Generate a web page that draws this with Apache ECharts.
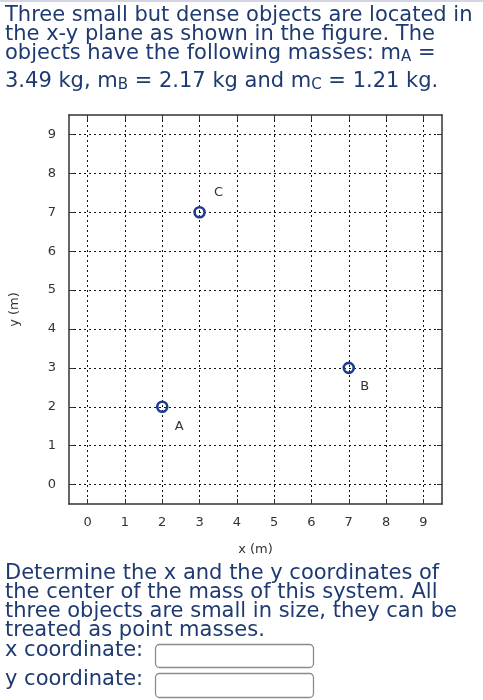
<!DOCTYPE html>
<html>
<head>
<meta charset="utf-8">
<script src="https://cdn.jsdelivr.net/npm/echarts@6/dist/echarts.min.js"></script>
<style>
html,body{margin:0;padding:0;background:#fff;}
#chart{width:483px;height:700px;}
</style>
</head>
<body>
<div id="chart"></div>
<script>
// ---- data ----
const pointNames = ['A', 'B', 'C'];
const pointX = [2, 7, 3];
const pointY = [2, 3, 7];
const xTickValues = [0, 1, 2, 3, 4, 5, 6, 7, 8, 9];
const yTickValues = [0, 1, 2, 3, 4, 5, 6, 7, 8, 9];
const xAxisName = 'x (m)';
const yAxisName = 'y (m)';
const topLines = [
  'Three small but dense objects are located in',
  'the x-y plane as shown in the figure. The',
  'objects have the following masses: m{s|A} =',
  '3.49 kg, m{s|B} = 2.17 kg and m{s|C} = 1.21 kg.'
];
const bottomLines = [
  'Determine the x and the y coordinates of',
  'the center of the mass of this system. All',
  'three objects are small in size, they can be',
  'treated as point masses.',
  'x coordinate:',
  'y coordinate:'
];

// ---- layout / style ----
const TEXT_COLOR = '#1e3a70';
const FONT = '"DejaVu Sans", Verdana, sans-serif';
const topBaselines = [23, 42, 61, 89];
const bottomBaselines = [581, 600, 619, 638, 658, 687];
const labelOffsets = {A: [17, 20], B: [16, 19], C: [19, -20]};

const chart = echarts.init(document.getElementById('chart'));

function textEl(str, baseline) {
  return {
    type: 'text',
    x: 5,
    y: baseline - 7,
    silent: true,
    style: {
      text: str,
      fill: TEXT_COLOR,
      fontFamily: FONT,
      fontSize: 21,
      verticalAlign: 'middle',
      lineHeight: 21,
      rich: {
        s: {fontSize: 15, fill: TEXT_COLOR, fontFamily: FONT, verticalAlign: 'bottom', lineHeight: 1}
      }
    }
  };
}

const graphics = [
  {type: 'rect', shape: {x: 0, y: 0, width: 483, height: 2}, style: {fill: '#d3d5e4'}, silent: true}
];
topLines.forEach((t, i) => graphics.push(textEl(t, topBaselines[i])));
bottomLines.forEach((t, i) => graphics.push(textEl(t, bottomBaselines[i])));
graphics.push({type: 'rect', shape: {x: 155.5, y: 644.5, width: 158, height: 23, r: 4}, style: {fill: '#fff', stroke: '#8c8c8c', lineWidth: 1.3}, silent: true});
graphics.push({type: 'rect', shape: {x: 155.5, y: 673.5, width: 158, height: 24, r: 4}, style: {fill: '#fff', stroke: '#8c8c8c', lineWidth: 1.3}, silent: true});

const axisLineStyle = {show: true, onZero: false, lineStyle: {color: '#333', width: 1.5}};
const tickStyle = {show: true, inside: true, length: 5, lineStyle: {color: '#333', width: 1}};
const gridLine = {show: true, lineStyle: {color: '#111', type: [2, 3], width: 1}};
const tickLabelStyle = {color: '#333', fontSize: 13, fontFamily: FONT};

const pointData = pointNames.map((n, i) => ({
  name: n,
  value: [pointX[i], pointY[i]],
  label: {offset: labelOffsets[n]}
}));

chart.setOption({
  animation: false,
  backgroundColor: '#fff',
  graphic: graphics,
  grid: {left: 64, right: 41, top: 115, bottom: 196, containLabel: false},
  xAxis: [
    {
      type: 'value', position: 'bottom', min: -0.5, max: 9.5,
      name: xAxisName, nameLocation: 'middle', nameGap: 39,
      nameTextStyle: {color: '#333', fontSize: 13, fontFamily: FONT},
      axisLine: axisLineStyle,
      axisTick: Object.assign({customValues: xTickValues}, tickStyle),
      axisLabel: Object.assign({customValues: xTickValues, margin: 12}, tickLabelStyle),
      splitLine: gridLine
    },
    {
      type: 'value', position: 'top', min: -0.5, max: 9.5,
      axisLine: axisLineStyle,
      axisTick: Object.assign({customValues: xTickValues}, tickStyle),
      axisLabel: {show: false},
      splitLine: {show: false}
    }
  ],
  yAxis: [
    {
      type: 'value', position: 'left', min: -0.5, max: 9.5,
      name: yAxisName, nameLocation: 'middle', nameGap: 48, nameRotate: 90,
      nameTextStyle: {color: '#333', fontSize: 13, fontFamily: FONT},
      axisLine: axisLineStyle,
      axisTick: Object.assign({customValues: yTickValues}, tickStyle),
      axisLabel: Object.assign({customValues: yTickValues, margin: 13}, tickLabelStyle),
      splitLine: gridLine
    },
    {
      type: 'value', position: 'right', min: -0.5, max: 9.5,
      axisLine: axisLineStyle,
      axisTick: Object.assign({customValues: yTickValues}, tickStyle),
      axisLabel: {show: false},
      splitLine: {show: false}
    }
  ],
  series: [{
    type: 'scatter',
    xAxisIndex: 0,
    yAxisIndex: 0,
    symbol: 'circle',
    symbolSize: 10,
    itemStyle: {color: 'rgba(255,255,255,0)', borderColor: '#1c3c8e', borderWidth: 2.6, opacity: 1},
    label: {show: true, position: 'inside', formatter: '{b}', color: '#333', fontSize: 13, fontFamily: FONT},
    data: pointData
  }]
});
</script>
</body>
</html>
